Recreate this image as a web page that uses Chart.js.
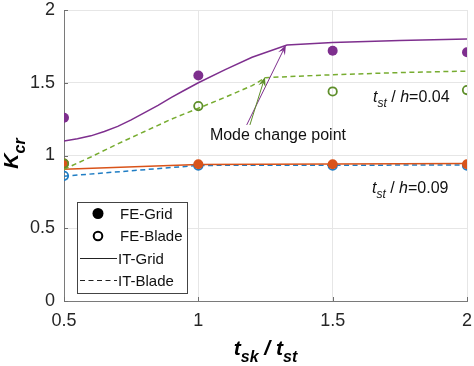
<!DOCTYPE html>
<html>
<head>
<meta charset="utf-8">
<script src="https://cdn.jsdelivr.net/npm/chart.js@4/dist/chart.umd.min.js"></script>
<style>
html,body{margin:0;padding:0;background:#fff;}
#wrap{width:474px;height:366px;}
</style>
</head>
<body>
<div id="wrap"><canvas id="c" width="474" height="366"></canvas></div>
<script>
// ---- data ----
const xTickValues = [0.5, 1, 1.5, 2];
const xTickLabels = ['0.5', '1', '1.5', '2'];
const yTickValues = [0, 0.5, 1, 1.5, 2];
const yTickLabels = ['0', '0.5', '1', '1.5', '2'];

const feX = [0.5, 1, 1.5, 2];
const feGrid004 = [1.26, 1.55, 1.72, 1.71];
const feBlade004 = [0.945, 1.34, 1.44, 1.45];
const feGrid009 = [0.945, 0.94, 0.94, 0.94];
const feBlade009 = [0.86, 0.93, 0.93, 0.93];

const itGrid004X = [0.5, 0.55, 0.6, 0.65, 0.7, 0.75, 0.8, 0.85, 0.9, 0.95, 1.0, 1.1, 1.2, 1.33, 1.5, 1.75, 2];
const itGrid004Y = [1.10, 1.115, 1.135, 1.165, 1.20, 1.245, 1.295, 1.345, 1.40, 1.45, 1.50, 1.59, 1.675, 1.76, 1.777, 1.79, 1.80];
const itBlade004X = [0.5, 0.6, 0.7, 0.8, 0.9, 1.0, 1.1, 1.2, 1.25, 1.5, 1.75, 2];
const itBlade004Y = [0.905, 0.99, 1.08, 1.165, 1.25, 1.325, 1.40, 1.48, 1.535, 1.555, 1.57, 1.58];
const itGrid009X = [0.5, 1, 1.5, 2];
const itGrid009Y = [0.905, 0.938, 0.942, 0.945];
const itBlade009X = [0.5, 1, 1.5, 2];
const itBlade009Y = [0.858, 0.932, 0.933, 0.935];

const legendLabels = ['FE-Grid', 'FE-Blade', 'IT-Grid', 'IT-Blade'];
const annotationText = 'Mode change point';
// arrows in data coordinates [fromX, fromY, toX, toY]
const arrowPurple = [1.18, 1.21, 1.326, 1.76];
const arrowGreen = [1.192, 1.21, 1.248, 1.54];

const PURPLE = '#7E2F8E', GREEN = '#77AC30', GREEN_DARK = '#5E8E2A', ORANGE = '#D95319', BLUE = '#1F7DC4';

const pts = (xs, ys) => xs.map((x, i) => ({x: x, y: ys[i]}));

const markerSet = (label, data, color, filled) => ({
  label, data: pts(feX, data), showLine: false,
  pointStyle: 'circle',
  pointRadius: filled ? 5 : 4.2,
  pointHoverRadius: filled ? 5 : 4.2,
  pointBackgroundColor: filled ? color : 'rgba(0,0,0,0)',
  pointBorderColor: color,
  pointBorderWidth: filled ? 0 : 1.8
});
const lineSet = (label, xs, ys, color, dashed) => ({
  label, data: pts(xs, ys), showLine: true, pointRadius: 0, pointHoverRadius: 0,
  borderColor: color, borderWidth: 1.5, borderDash: dashed ? [5, 3.5] : [], tension: 0, fill: false
});

function drawRich(ctx, parts, x, y, align) {
  let w = 0;
  parts.forEach(p => { ctx.font = p.font; p.w = ctx.measureText(p.t).width; w += p.w; });
  let sx = align === 'right' ? x - w : (align === 'center' ? x - w / 2 : x);
  ctx.textBaseline = 'alphabetic';
  ctx.textAlign = 'left';
  parts.forEach(p => { ctx.font = p.font; ctx.fillText(p.t, sx, y + (p.dy || 0)); sx += p.w; });
}

function drawArrow(ctx, xs, ys, a, color) {
  const x1 = xs.getPixelForValue(a[0]), y1 = ys.getPixelForValue(a[1]);
  const x2 = xs.getPixelForValue(a[2]), y2 = ys.getPixelForValue(a[3]);
  const ang = Math.atan2(y2 - y1, x2 - x1);
  const L = 10, H = 3.8;
  ctx.save();
  ctx.strokeStyle = color; ctx.fillStyle = color; ctx.lineWidth = 1;
  ctx.beginPath(); ctx.moveTo(x1, y1); ctx.lineTo(x2 - Math.cos(ang) * 4, y2 - Math.sin(ang) * 4); ctx.stroke();
  ctx.beginPath();
  ctx.moveTo(x2, y2);
  ctx.lineTo(x2 - L * Math.cos(ang) + H * Math.sin(ang), y2 - L * Math.sin(ang) - H * Math.cos(ang));
  ctx.lineTo(x2 - 0.6 * L * Math.cos(ang), y2 - 0.6 * L * Math.sin(ang));
  ctx.lineTo(x2 - L * Math.cos(ang) - H * Math.sin(ang), y2 - L * Math.sin(ang) + H * Math.cos(ang));
  ctx.closePath(); ctx.fill();
  ctx.restore();
}

const overlay = {
  id: 'overlay',
  afterDraw(chart) {
    const ctx = chart.ctx, ca = chart.chartArea;
    const xs = chart.scales.x, ys = chart.scales.y;
    ctx.save();
    // inward ticks
    ctx.strokeStyle = '#6e6e6e'; ctx.lineWidth = 1;
    yTickValues.forEach(v => { const py = Math.round(ys.getPixelForValue(v)) + 0.5; ctx.beginPath(); ctx.moveTo(ca.left, py); ctx.lineTo(ca.left + 4, py); ctx.stroke(); });
    xTickValues.forEach(v => { const px = Math.round(xs.getPixelForValue(v)) + 0.5; ctx.beginPath(); ctx.moveTo(px, ca.bottom); ctx.lineTo(px, ca.bottom - 4); ctx.stroke(); });

    // arrows
    drawArrow(ctx, xs, ys, arrowPurple, PURPLE);
    drawArrow(ctx, xs, ys, arrowGreen, GREEN_DARK);

    // annotation texts
    ctx.fillStyle = '#111';
    ctx.font = '16px "Liberation Sans", Arial, sans-serif';
    ctx.textAlign = 'left'; ctx.textBaseline = 'middle';
    ctx.fillText(annotationText, xs.getPixelForValue(1.043), ys.getPixelForValue(1.134));

    const it = 'italic 16px "Liberation Sans", Arial, sans-serif';
    const itS = 'italic 12px "Liberation Sans", Arial, sans-serif';
    const rg = '16px "Liberation Sans", Arial, sans-serif';
    drawRich(ctx, [{t: 't', font: it}, {t: 'st', font: itS, dy: 5}, {t: ' / ', font: rg}, {t: 'h', font: it}, {t: '=0.04', font: rg}],
      xs.getPixelForValue(1.935), ys.getPixelForValue(1.368), 'right');
    drawRich(ctx, [{t: 't', font: it}, {t: 'st', font: itS, dy: 5}, {t: ' / ', font: rg}, {t: 'h', font: it}, {t: '=0.09', font: rg}],
      xs.getPixelForValue(1.931), ys.getPixelForValue(0.742), 'right');

    // axis titles
    ctx.fillStyle = '#000';
    const bi = 'bold italic 21px "Liberation Sans", Arial, sans-serif';
    const biS = 'bold italic 16px "Liberation Sans", Arial, sans-serif';
    drawRich(ctx, [{t: 't', font: bi}, {t: 'sk', font: biS, dy: 7}, {t: ' / ', font: bi}, {t: 't', font: bi}, {t: 'st', font: biS, dy: 7}],
      (ca.left + ca.right) / 2, 355, 'center');
    ctx.save();
    ctx.translate(18, (ca.top + ca.bottom) / 2 - 2);
    ctx.rotate(-Math.PI / 2);
    drawRich(ctx, [{t: 'K', font: bi}, {t: 'cr', font: biS, dy: 7}], 0, 0, 'center');
    ctx.restore();

    // legend
    const lx = ca.left + 13, ly = ca.bottom - 99, lw = 110, lh = 91;
    ctx.fillStyle = '#fff';
    ctx.fillRect(lx, ly, lw, lh);
    ctx.strokeStyle = '#444'; ctx.lineWidth = 1;
    ctx.strokeRect(lx + 0.5, ly + 0.5, lw, lh);
    const rows = [ly + 11.5, ly + 34, ly + 56.5, ly + 78.5];
    const mx = lx + 21;
    ctx.fillStyle = '#000';
    ctx.beginPath(); ctx.arc(mx, rows[0], 5.5, 0, Math.PI * 2); ctx.fill();
    ctx.strokeStyle = '#000'; ctx.lineWidth = 2;
    ctx.beginPath(); ctx.arc(mx, rows[1], 4.3, 0, Math.PI * 2); ctx.stroke();
    ctx.lineWidth = 1.2; ctx.strokeStyle = '#222';
    ctx.beginPath(); ctx.moveTo(lx + 3, rows[2]); ctx.lineTo(lx + 40, rows[2]); ctx.stroke();
    ctx.setLineDash([5, 3.5]);
    ctx.beginPath(); ctx.moveTo(lx + 3, rows[3]); ctx.lineTo(lx + 40, rows[3]); ctx.stroke();
    ctx.setLineDash([]);
    ctx.fillStyle = '#111';
    ctx.font = '15px "Liberation Sans", Arial, sans-serif';
    ctx.textAlign = 'left'; ctx.textBaseline = 'middle';
    const tx = [lx + 43, lx + 43, lx + 41, lx + 41];
    legendLabels.forEach((t, i) => ctx.fillText(t, tx[i], rows[i] + 1));
    ctx.restore();
  }
};

new Chart(document.getElementById('c'), {
  type: 'scatter',
  data: {
    datasets: [
      markerSet('FE-Blade 0.04', feBlade004, GREEN_DARK, false),
      markerSet('FE-Grid 0.04', feGrid004, PURPLE, true),
      markerSet('FE-Grid 0.09', feGrid009, ORANGE, true),
      markerSet('FE-Blade 0.09', feBlade009, BLUE, false),
      lineSet('IT-Grid 0.04', itGrid004X, itGrid004Y, PURPLE, false),
      lineSet('IT-Blade 0.04', itBlade004X, itBlade004Y, GREEN, true),
      lineSet('IT-Grid 0.09', itGrid009X, itGrid009Y, ORANGE, false),
      lineSet('IT-Blade 0.09', itBlade009X, itBlade009Y, BLUE, true)
    ]
  },
  options: {
    responsive: false,
    animation: false,
    devicePixelRatio: 1,
    layout: {padding: {top: 10, right: 7, left: 0, bottom: 0}},
    plugins: {legend: {display: false}, tooltip: {enabled: false}},
    scales: {
      x: {
        type: 'linear', min: 0.5, max: 2,
        afterBuildTicks: s => { s.ticks = xTickValues.map(v => ({value: v})); },
        afterFit: s => { s.height = 65; s.paddingLeft = 0; s.paddingRight = 0; },
        ticks: {
          callback: (v) => { const i = xTickValues.indexOf(v); return i >= 0 ? xTickLabels[i] : ''; },
          font: {family: '"Liberation Sans", Arial, sans-serif', size: 18},
          color: '#262626', padding: 9, maxRotation: 0, autoSkip: false
        },
        grid: {color: '#e6e6e6', lineWidth: 1, drawTicks: false},
        border: {color: '#7a7a7a', width: 1}
      },
      y: {
        type: 'linear', min: 0, max: 2,
        afterBuildTicks: s => { s.ticks = yTickValues.map(v => ({value: v})); },
        afterFit: s => { s.width = 64; s.paddingTop = 0; s.paddingBottom = 0; },
        ticks: {
          callback: (v) => { const i = yTickValues.indexOf(v); return i >= 0 ? yTickLabels[i] : ''; },
          font: {family: '"Liberation Sans", Arial, sans-serif', size: 18},
          color: '#262626', padding: 9, autoSkip: false
        },
        grid: {color: '#e6e6e6', lineWidth: 1, drawTicks: false},
        border: {color: '#7a7a7a', width: 1}
      }
    }
  },
  plugins: [overlay]
});
</script>
</body>
</html>
